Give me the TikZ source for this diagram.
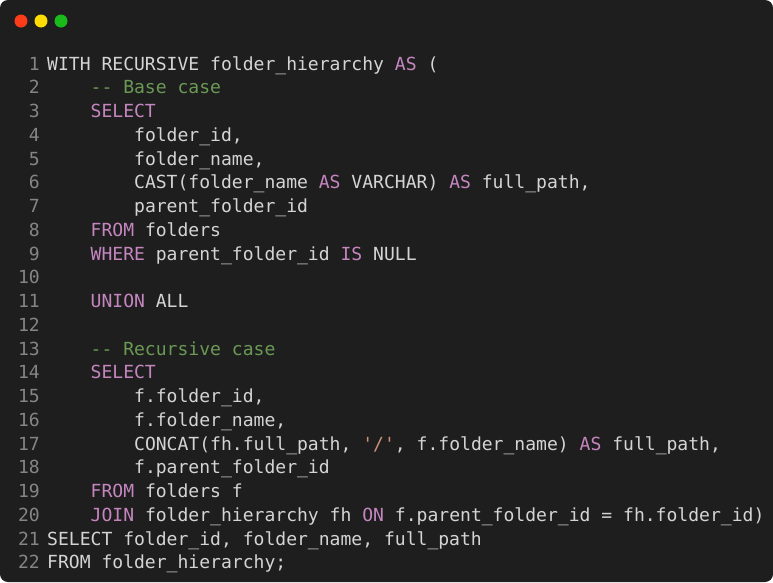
\documentclass[tikz,border=0pt]{standalone}
\usepackage{fontspec}
\setmonofont{DejaVu Sans Mono}
\definecolor{bg}{HTML}{1E1E1E}
\definecolor{tx}{HTML}{D4D4D4}
\definecolor{kw}{HTML}{C586C0}
\definecolor{cm}{HTML}{6A9955}
\definecolor{st}{HTML}{CE9178}
\definecolor{ln}{HTML}{858585}
\newcommand{\K}[1]{\textcolor{kw}{#1}}
\newcommand{\C}[1]{\textcolor{cm}{#1}}
\newcommand{\Sq}[1]{\textcolor{st}{#1}}
\begin{document}
\begin{tikzpicture}[x=1pt,y=1pt,
  code/.style={anchor=base west,inner sep=0,text=tx,font=\ttfamily\fontsize{18.05}{20}\selectfont},
  num/.style={anchor=base east,inner sep=0,text=ln,font=\ttfamily\fontsize{18.05}{20}\selectfont}]
\fill[bg,rounded corners=8] (0,0) rectangle (773,-582);
\useasboundingbox (0,0) rectangle (773,-582);
\fill[red!70!orange!90] (21,-21) circle (6.5);
\fill[yellow!80!orange] (41,-21) circle (6.5);
\fill[green!70!black!90] (61,-21) circle (6.5);
\foreach \i/\t in {
1/{WITH~RECURSIVE~folder\_hierarchy~\K{AS}~(},
2/{~~~~\C{--~Base~case}},
3/{~~~~\K{SELECT}},
4/{~~~~~~~~folder\_id,},
5/{~~~~~~~~folder\_name,},
6/{~~~~~~~~CAST(folder\_name~\K{AS}~VARCHAR)~\K{AS}~full\_path,},
7/{~~~~~~~~parent\_folder\_id},
8/{~~~~\K{FROM}~folders},
9/{~~~~\K{WHERE}~parent\_folder\_id~\K{IS}~NULL},
10/{},
11/{~~~~\K{UNION}~ALL},
12/{},
13/{~~~~\C{--~Recursive~case}},
14/{~~~~\K{SELECT}},
15/{~~~~~~~~f.folder\_id,},
16/{~~~~~~~~f.folder\_name,},
17/{~~~~~~~~CONCAT(fh.full\_path,~\Sq{'/'},~f.folder\_name)~\K{AS}~full\_path,},
18/{~~~~~~~~f.parent\_folder\_id},
19/{~~~~\K{FROM}~folders~f},
20/{~~~~\K{JOIN}~folder\_hierarchy~fh~\K{ON}~f.parent\_folder\_id~=~fh.folder\_id)},
21/{SELECT~folder\_id,~folder\_name,~full\_path},
22/{FROM~folder\_hierarchy;}}{
  \node[num] (n\i) at (40,{-70-23.76*(\i-1)}) {\i};
  \node[code] (c\i) at (47,{-70-23.76*(\i-1)}) {\strut\t};
}
\end{tikzpicture}
\end{document}
